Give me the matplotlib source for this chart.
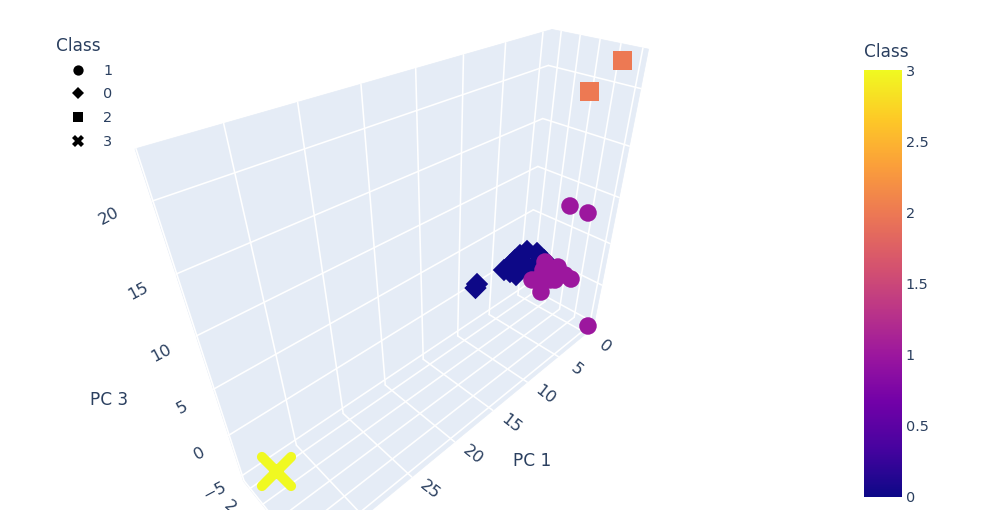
import numpy as np
import matplotlib
matplotlib.use('Agg')
import matplotlib.pyplot as plt
from matplotlib.cm import ScalarMappable
from matplotlib.colors import LinearSegmentedColormap, Normalize
from matplotlib.lines import Line2D
from matplotlib.patches import Polygon

# ---- data (PC1, PC2, PC3 for each class) ----
class0_pc1 = [11.2, 11.39, 7.36, 6.48, 5.75, 5.02, 3.92, 2.16, 0.75, 5.37, 4.02, 2.28, 3.03, 6.39]
class0_pc2 = [4.5] * 14
class0_pc3 = [3.57, 3.21, 3.23, 3.38, 3.62, 3.85, 3.81, 2.75, 1.21, 1.63, 2.18, 1.33, 0.82, 2.51]
class1_pc1 = [3.66, 2.08, -1.38, 5.06, 6.8, -0.19, 5.01, 2.63, 3.74, 5.52, 1.11, 2.84, 5.18, 2.66]
class1_pc2 = [8.5, 9.5, 9.8, 7.5, 7.5, 7.5, 7.5, 7.5, 7.5, 7.5, 7.5, 7.5, 7.5, 7.5]
class1_pc3 = [10.29, 9.34, -5.93, 0.94, 3.29, -0.2, 4.46, 2.71, 1.71, 2.86, 0.97, 1.24, 3.62, 2.0]
class2_pc1 = [0.64, 1.55]
class2_pc2 = [9.5, 7.5]
class2_pc3 = [22.41, 19.71]
class3_pc1 = [32.98]
class3_pc2 = [3.0]
class3_pc3 = [-4.44]

pc1_ticks = [0, 5, 10, 15, 20, 25, 30, 35]
pc1_labelled = [0, 5, 10, 15, 20, 25]
pc2_ticks = [2, 4, 6, 8, 10]
pc2_labelled = [2]
pc3_ticks = [-5, 0, 5, 10, 15, 20]
pc3_label_offsets = [(-27, 16), (-29, 18), (-31, 18), (-35, 17), (-38, 17), (-43, 15)]
colorbar_ticks = [0, 0.5, 1, 1.5, 2, 2.5, 3]
colorbar_labels = ['0', '0.5', '1', '1.5', '2', '2.5', '3']
legend_labels = ['1', '0', '2', '3']

# scene box and camera (projects PC1, PC2, PC3 to the picture)
X0, X1 = -1.3, 35.05
Y0, Y1 = 1.0, 10.5
Z0, Z1 = -5.7, 23.1
CAMERA = np.array([[-10.6889677, 2.3149472, -4.1275756, 534.1596709],
                   [1.3496929, 1.2488448, -10.1721901, 259.7669205],
                   [-0.0091267, -0.0093453, -0.0093346, 1.0373812]])

plasma = ["#0d0887", "#46039f", "#7201a8", "#9c179e", "#bd3786", "#d8576b",
          "#ed7953", "#fb9f3a", "#fdca26", "#f0f921"]
cmap = LinearSegmentedColormap.from_list('plotly_plasma', plasma, N=256)
norm = Normalize(0, 3)
INK = '#2a3f5f'
WALL = '#e5ecf6'
plt.rcParams['font.family'] = ['DejaVu Sans']


def project(x, y, z):
    h = CAMERA @ np.array([np.asarray(x, float), np.asarray(y, float), np.asarray(z, float),
                           np.ones_like(np.asarray(x, float))])
    return h[0] / h[2], h[1] / h[2]


def pt(x, y, z):
    u, v = project(x, y, z)
    return float(u), float(v)


fig = plt.figure(figsize=(9.85, 5.32), dpi=100)
ax = fig.add_axes([0, 22 / 532, 1, 510 / 532])
ax.set_xlim(0, 985)
ax.set_ylim(510, 0)
ax.axis('off')

# walls and floor
walls = [[(X1, Y0, Z0), (X0, Y0, Z0), (X0, Y0, Z1), (X1, Y0, Z1)],
         [(X0, Y0, Z0), (X0, Y1, Z0), (X0, Y1, Z1), (X0, Y0, Z1)],
         [(X1, Y0, Z0), (X0, Y0, Z0), (X0, Y1, Z0), (X1, Y1, Z0)]]
for wall in walls:
    ax.add_patch(Polygon([pt(*c) for c in wall], closed=True, fc=WALL, ec=WALL, lw=0.5, zorder=1))


def grid(a, b):
    ua, va = pt(*a)
    ub, vb = pt(*b)
    ax.plot([ua, ub], [va, vb], color='white', lw=1.15, zorder=2, solid_capstyle='round')


for t in pc1_ticks:
    grid((t, Y0, Z0), (t, Y0, Z1))
    grid((t, Y0, Z0), (t, Y1, Z0))
for t in pc2_ticks:
    grid((X0, t, Z0), (X0, t, Z1))
    grid((X0, t, Z0), (X1, t, Z0))
for t in pc3_ticks:
    grid((X0, Y0, t), (X1, Y0, t))
    grid((X0, Y0, t), (X0, Y1, t))

# markers
u, v = project(class0_pc1, class0_pc2, class0_pc3)
ax.scatter(u, v, c=[0] * len(u), cmap=cmap, norm=norm, marker='D', s=130, lw=0, zorder=3)
u, v = project(class1_pc1, class1_pc2, class1_pc3)
ax.scatter(u, v, c=[1] * len(u), cmap=cmap, norm=norm, marker='o', s=159, lw=0, zorder=4)
u, v = project(class2_pc1, class2_pc2, class2_pc3)
ax.scatter(u, v, c=[2] * len(u), cmap=cmap, norm=norm, marker='s', s=187, lw=0, zorder=5)
u, v = project(class3_pc1, class3_pc2, class3_pc3)
sc = ax.scatter(u, v, color=[cmap(norm(3))], marker='x', s=441, linewidths=7.2, zorder=6)
sc.set_capstyle('round')

# tick labels of the scene
TICK_PT = 10.4
SCENE_TICK_PT = 11.8
for t in pc1_labelled:
    a, b = pt(t, Y1, Z0)
    ax.text(a + 18, b + 13, str(t), color=INK, fontsize=SCENE_TICK_PT, rotation=-38,
            rotation_mode='anchor', ha='center', va='center', clip_on=True, zorder=7)
for t, (dx, dy) in zip(pc3_ticks, pc3_label_offsets):
    a, b = pt(X1, Y0, t)
    ax.text(a + dx, b + dy, str(t).replace('-', '\u2212'), color=INK, fontsize=SCENE_TICK_PT, rotation=28,
            rotation_mode='anchor', ha='center', va='center', clip_on=True, zorder=7)
for t in pc2_labelled:
    a, b = pt(X1, t, Z0)
    ax.text(a - 20, b + 18, str(t), color=INK, fontsize=SCENE_TICK_PT, rotation=-40,
            rotation_mode='anchor', ha='center', va='center', clip_on=True, zorder=7)
ax.text(532, 461, 'PC 1', color=INK, fontsize=12.2, ha='center', va='center', zorder=7)
ax.text(109, 400, 'PC 3', color=INK, fontsize=12.2, ha='center', va='center', zorder=7)

# legend
handles = [Line2D([], [], ls='none', marker='o', color='black', mew=0, ms=7.4),
           Line2D([], [], ls='none', marker='D', color='black', mew=0, ms=6.6),
           Line2D([], [], ls='none', marker='s', color='black', mew=0, ms=7.6),
           Line2D([], [], ls='none', marker='X', color='black', mew=0, ms=8.6)]
leg = ax.legend(handles, legend_labels, title='Class', loc='upper left', bbox_to_anchor=(56, 37),
                bbox_transform=ax.transData, frameon=False, borderpad=0, borderaxespad=0,
                fontsize=TICK_PT, title_fontproperties={'size': 12.2}, labelcolor=INK,
                handlelength=3.05, handletextpad=0.2, labelspacing=0.67, numpoints=1)
leg.get_title().set_color(INK)
leg._legend_box.align = 'left'
leg._legend_box.sep -= 0.72

# colour bar
cax = fig.add_axes([864 / 985, (532 - 497) / 532, 37.5 / 985, 427 / 532])
cb = fig.colorbar(ScalarMappable(norm=norm, cmap=cmap), cax=cax, ticks=colorbar_ticks)
cb.ax.set_yticklabels(colorbar_labels, color=INK, fontsize=TICK_PT)
cb.ax.tick_params(length=0, pad=3)
cb.outline.set_visible(False)
cb.ax.set_title('Class', loc='left', color=INK, fontsize=12.2, pad=9.2)

fig.savefig('out.png', dpi=100, facecolor='white')
